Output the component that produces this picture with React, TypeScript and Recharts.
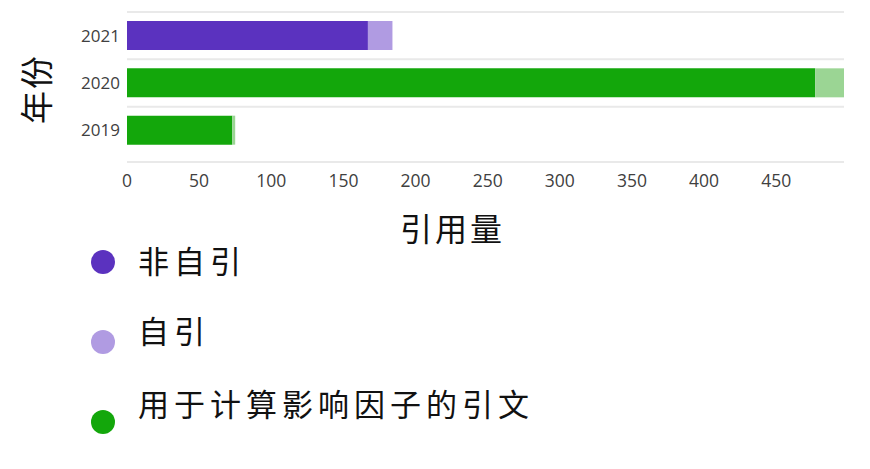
import React from 'react';
import { BarChart, Bar, XAxis, YAxis, CartesianGrid, Legend, Cell } from 'recharts';

// ---- data ----
const years = ['2021', '2020', '2019'];
const nonSelfCitations = [167, 477, 73];
const selfCitations = [17, 20, 2];
const xTicks = [0, 50, 100, 150, 200, 250, 300, 350, 400, 450];
const legendLabels = ['非自引', '自引', '用于计算影响因子的引文'];
const xTitle = '引用量';
const yTitle = '年份';

// ---- styles ----
const mainColor: Record<string, string> = { '2021': '#5b32bf', '2020': '#13a70b', '2019': '#13a70b' };
const lightColor: Record<string, string> = { '2021': '#b09be2', '2020': '#9bd594', '2019': '#9bd594' };
const legendColors = ['#5b32bf', '#b09be2', '#13a70b'];
const legendDotTops = [-2, 78, 158];
const legendTextTops = [-9, 61, 134];
const CJK = "'Noto Sans CJK SC', 'Noto Sans', sans-serif";
const TICK_FONT = "'Open Sans', 'Noto Sans', sans-serif";
const GRID = '#e9e9e9';

const data = years.map((y, i) => ({ year: y, nonSelf: nonSelfCitations[i], self: selfCitations[i] }));

// grid lines at the top edge of every category band
const gridGen = (props: any) => {
  const { yAxis, offset } = props;
  try {
    const s = yAxis && yAxis.scale;
    if (s) {
      const dom = typeof s.domain === 'function' ? s.domain() : null;
      if (dom && typeof s === 'function') {
        const pts = dom.map((d: any) => s(d)).filter((v: any) => typeof v === 'number' && !isNaN(v));
        if (pts.length) return pts;
      }
      if (dom && typeof s.map === 'function') {
        const pts = dom.map((d: any) => s.map(d)).filter((v: any) => typeof v === 'number' && !isNaN(v));
        if (pts.length) return pts;
      }
      if (dom && typeof s.range === 'function' && typeof s.bandwidth === 'function') {
        const r = s.range();
        const r0 = Math.min(r[0], r[1]);
        const bw = s.bandwidth();
        return dom.map((_: any, i: number) => r0 + i * bw);
      }
    }
  } catch (e) {
    // fall through
  }
  const ticks = (yAxis && yAxis.ticks) || [];
  if (ticks.length > 1 && ticks[0].coordinate != null) {
    const step = Math.abs(ticks[1].coordinate - ticks[0].coordinate);
    return ticks.map((t: any) => t.coordinate - step / 2);
  }
  return [offset.top];
};

const XTitle = (props: any) => {
  const vb = props.viewBox || {};
  return (
    <text
      x={vb.x + vb.width / 2 - 33}
      y={vb.y + 65}
      textAnchor="middle"
      dominantBaseline="central"
      fontFamily={CJK}
      fontSize={32}
      letterSpacing={3}
      fill="#111"
    >
      {xTitle}
    </text>
  );
};

const YTitle = (props: any) => {
  const vb = props.viewBox || {};
  const cx = vb.x + 35;
  const cy = vb.y + vb.height / 2 + 2;
  return (
    <text
      x={cx}
      y={cy}
      transform={`rotate(-90, ${cx}, ${cy})`}
      textAnchor="middle"
      dominantBaseline="central"
      fontFamily={CJK}
      fontSize={33}
      letterSpacing={2}
      fill="#111"
    >
      {yTitle}
    </text>
  );
};

const renderLegend = () => (
  <div style={{ position: 'relative', width: 870, height: 217 }}>
    {legendLabels.map((label, i) => (
      <React.Fragment key={label}>
        <span
          style={{
            position: 'absolute',
            left: 91,
            top: legendDotTops[i],
            width: 24,
            height: 24,
            borderRadius: '50%',
            background: legendColors[i],
          }}
        />
        <span
          style={{
            position: 'absolute',
            left: 138,
            top: legendTextTops[i],
            fontFamily: CJK,
            fontSize: 31,
            lineHeight: '34px',
            letterSpacing: 5,
            color: '#111',
            whiteSpace: 'nowrap',
          }}
        >
          {label}
        </span>
      </React.Fragment>
    ))}
  </div>
);

export default function App() {
  return (
    <div style={{ width: 870, height: 469, background: '#fff' }}>
      <style>{`body{margin:0;background:#fff;}`}</style>
      <BarChart
        width={870}
        height={469}
        data={data}
        layout="vertical"
        margin={{ top: 12, right: 26, bottom: 0, left: 0 }}
      >
        <CartesianGrid
          vertical={false}
          stroke={GRID}
          strokeWidth={2}
          horizontalCoordinatesGenerator={gridGen}
        />
        <XAxis
          type="number"
          domain={[0, 'dataMax']}
          ticks={xTicks}
          tickSize={0}
          tickMargin={13}
          axisLine={{ stroke: GRID, strokeWidth: 2 }}
          tick={{ fill: '#404040', fontSize: 17.5, fontFamily: TICK_FONT }}
          height={90}
          label={<XTitle />}
        />
        <YAxis
          type="category"
          dataKey="year"
          width={127}
          tickSize={0}
          tickMargin={7}
          axisLine={false}
          padding={{ top: 0, bottom: 8 }}
          tick={{ fill: '#404040', fontSize: 17, fontFamily: TICK_FONT }}
          label={<YTitle />}
        />
        <Legend
          layout="horizontal"
          verticalAlign="bottom"
          content={renderLegend}
          wrapperStyle={{ position: 'absolute', top: 252, left: 0, width: 870, height: 217 }}
        />
        <Bar dataKey="nonSelf" stackId="a" barSize={29} isAnimationActive={false}>
          {data.map((d) => (
            <Cell key={d.year} fill={mainColor[d.year]} />
          ))}
        </Bar>
        <Bar dataKey="self" stackId="a" barSize={29} isAnimationActive={false}>
          {data.map((d) => (
            <Cell key={d.year} fill={lightColor[d.year]} />
          ))}
        </Bar>
      </BarChart>
    </div>
  );
}
